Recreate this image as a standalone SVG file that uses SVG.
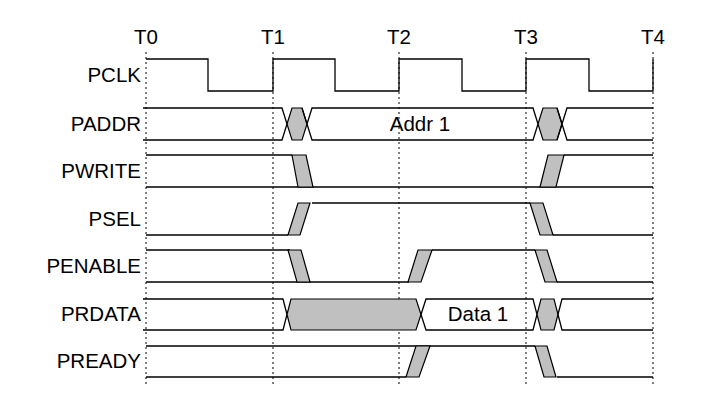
<svg xmlns="http://www.w3.org/2000/svg" width="709" height="409" viewBox="0 0 709 409">
<style>
text{font-family:"Liberation Sans",Arial,sans-serif;font-size:20.5px;fill:#000}
.lab{text-anchor:end}
.t{text-anchor:middle}
.w{fill:none;stroke:#000;stroke-width:1.3}
.g{fill:#c0c0c0;stroke:#000;stroke-width:1.2}
.d{stroke:#000;stroke-width:1;stroke-dasharray:2,3}
</style>
<rect width="709" height="409" fill="#fff"/>
<g id="grid">
<line class="d" x1="146" y1="52" x2="146" y2="386"/>
<line class="d" x1="273" y1="52" x2="273" y2="386"/>
<line class="d" x1="399" y1="52" x2="399" y2="386"/>
<line class="d" x1="526" y1="52" x2="526" y2="386"/>
<line class="d" x1="653" y1="52" x2="653" y2="386"/>
<text class="t" x="146" y="44">T0</text>
<text class="t" x="273" y="44">T1</text>
<text class="t" x="399" y="44">T2</text>
<text class="t" x="526" y="44">T3</text>
<text class="t" x="653" y="44">T4</text>
</g>
<g id="PCLK">
<text class="lab" x="141" y="82">PCLK</text>
<path class="w" d="M146 59H208V91H273V59H335V91H399V59H462V91H526V59H589V91H653V59"/>
</g>
<g id="PADDR">
<text class="lab" x="141" y="131">PADDR</text>
<path class="g" d="M287 124L292 108H302L307 124L302 140H292Z"/>
<path class="w" d="M143 108H282L287 124L282 140H143"/>
<path class="w" d="M302 108L307 124L312 108H533L538 124L533 140H312L307 124"/>
<path class="g" d="M538 124L543 108H557L562 124L557 140H543Z"/>
<path class="w" d="M557 108L562 124L567 108H653M557 140L562 124L567 140H653"/>
<text x="420" y="131" class="t">Addr 1</text>
</g>
<g id="PWRITE">
<text class="lab" x="141" y="178">PWRITE</text>
<path class="w" d="M146 155H292M146 187H653M564 155H653"/>
<path class="g" d="M292 155H306L313 187H298Z"/>
<path class="g" d="M540 187H556L564 155H548Z"/>
</g>
<g id="PSEL">
<text class="lab" x="141" y="226">PSEL</text>
<path class="w" d="M146 235H288M312 203H530M553 235H653"/>
<path class="g" d="M288 235H300L310 203H298Z"/>
<path class="g" d="M530 203H543L553 235H540Z"/>
</g>
<g id="PENABLE">
<text class="lab" x="141" y="273">PENABLE</text>
<path class="w" d="M146 250H290M146 282H409M432 250H535M557 282H653"/>
<path class="g" d="M288 250H301L310 282H297Z"/>
<path class="g" d="M408 282H421L432 250H418Z"/>
<path class="g" d="M535 250H547L557 282H545Z"/>
</g>
<g id="PRDATA">
<text class="lab" x="141" y="321">PRDATA</text>
<path class="w" d="M143 299H283L287 314.5L283 330H143"/>
<path class="g" d="M287 314.5L291 299H416L421 314.5L416 330H291Z"/>
<path class="w" d="M421 314.5L426 299H533L537 314.5L533 330H426Z"/>
<path class="g" d="M537 314.5L541 299H554L558 314.5L554 330H541Z"/>
<path class="w" d="M558 314.5L562 299H653M558 314.5L562 330H653"/>
<text x="478" y="321" class="t">Data 1</text>
</g>
<g id="PREADY">
<text class="lab" x="141" y="368">PREADY</text>
<path class="w" d="M146 346H535M146 377H406M557 377H653"/>
<path class="g" d="M406 377H419L430 346H416Z"/>
<path class="g" d="M535 346H547L556 377H544Z"/>
</g>
<g id="connectors"></g>
</svg>
